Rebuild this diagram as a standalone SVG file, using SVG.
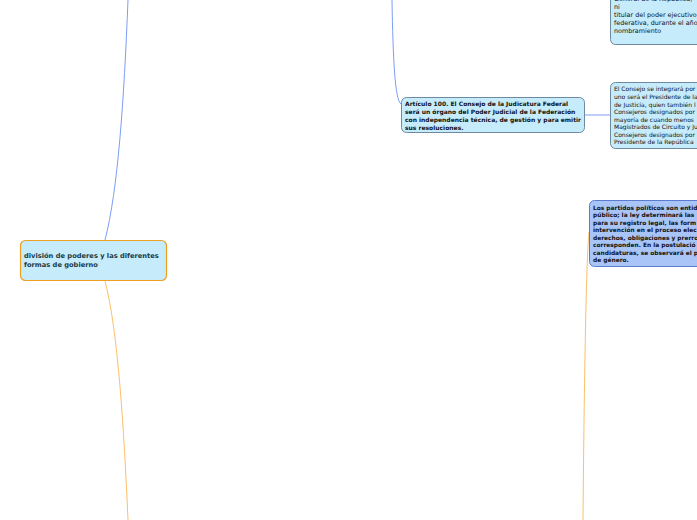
<svg xmlns="http://www.w3.org/2000/svg" width="697" height="520" viewBox="0 0 697 520">
<style>
.t{font-family:"DejaVu Sans",Verdana,sans-serif;fill:#111}
.b{font-weight:bold}
.n{fill:#c6ebfb;stroke:#6d8aa0;stroke-width:1}
.cb{fill:none;stroke:#7e9ef4;stroke-width:1}
.co{fill:none;stroke:#fbc06a;stroke-width:1}
</style>
<rect width="697" height="520" fill="#fff"/>
<g id="connectors">
<path class="cb" d="M128,0 C124,100 118,190 105,240"/>
<path class="co" d="M105,281 C118,330 124,430 128,520"/>
<path class="cb" d="M392,0 C393,60 395,100 401,104"/>
<path class="cb" d="M584,115 L610,115"/>
<path class="co" d="M589,232 C586,260 584,400 583,520"/>
</g>
<g id="main">
<rect x="20.5" y="240.5" width="146" height="40" rx="5" fill="#c6ebfb" stroke="#f0a020" stroke-width="1.2"/>
<text class="t b" font-size="6.7" style="fill:#1b3b45"><tspan x="24" y="258">división de poderes y las diferentes</tspan><tspan x="24" y="267">formas de gobierno</tspan></text>
</g>
<g id="node-top">
<rect class="n" x="610.5" y="-10" width="120" height="54.5" rx="5"/>
<text class="t" font-size="6.4"><tspan x="614" y="1">General de la República,</tspan><tspan x="614" y="9">ni</tspan><tspan x="614" y="17">titular del poder ejecutivo</tspan><tspan x="614" y="25">federativa, durante el año</tspan><tspan x="614" y="33">nombramiento</tspan></text>
</g>
<g id="node-art100">
<rect class="n" x="401.5" y="97.5" width="183" height="35" rx="5"/>
<text class="t b" font-size="6"><tspan x="405" y="106">Artículo 100. El Consejo de la Judicatura Federal</tspan><tspan x="405" y="114">será un órgano del Poder Judicial de la Federación</tspan><tspan x="405" y="122">con independencia técnica, de gestión y para emitir</tspan><tspan x="405" y="130">sus resoluciones.</tspan></text>
</g>
<g id="node-consejo">
<rect class="n" x="610.5" y="82.5" width="150" height="66" rx="5"/>
<text class="t" font-size="6"><tspan x="614" y="91">El Consejo se integrará por</tspan><tspan x="614" y="99">uno será el Presidente de la</tspan><tspan x="614" y="106.5">de Justicia, quien también l</tspan><tspan x="614" y="114">Consejeros designados por</tspan><tspan x="614" y="121.5">mayoría de cuando menos</tspan><tspan x="614" y="129">Magistrados de Circuito y Ju</tspan><tspan x="614" y="136.5">Consejeros designados por</tspan><tspan x="614" y="144">Presidente de la República</tspan></text>
</g>
<g id="node-partidos">
<rect x="589.5" y="200.5" width="150" height="66" rx="5" fill="#a9c5f7" stroke="#5a7bd0" stroke-width="1"/>
<text class="t b" font-size="5.9"><tspan x="593" y="209.5">Los partidos políticos son entid</tspan><tspan x="593" y="217">público; la ley determinará las</tspan><tspan x="593" y="224.5">para su registro legal, las form</tspan><tspan x="593" y="232">intervención en el proceso elec</tspan><tspan x="593" y="239.5">derechos, obligaciones y prerro</tspan><tspan x="593" y="247">corresponden. En la postulació</tspan><tspan x="593" y="254.5">candidaturas, se observará el p</tspan><tspan x="593" y="262">de género.</tspan></text>
</g>
</svg>
